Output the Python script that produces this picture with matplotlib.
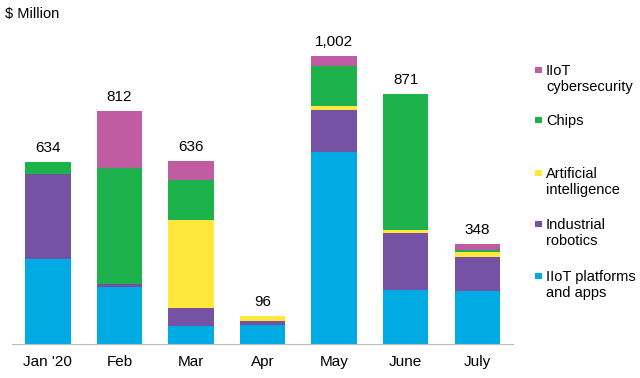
import numpy as np
import matplotlib.pyplot as plt
from matplotlib.patches import Rectangle

plt.rcParams['font.family'] = ['Liberation Sans', 'DejaVu Sans']

months = ["Jan '20", 'Feb', 'Mar', 'Apr', 'May', 'June', 'July']
platforms = [294, 199, 62, 64, 669, 188, 183]
robotics = [297, 10, 63, 14, 147, 199, 120]
ai = [0, 0, 305, 18, 13, 9, 15]
chips = [41, 404, 140, 0, 138, 475, 10]
cyber = [2, 199, 66, 0, 35, 0, 20]
totals = [634, 812, 636, 96, 1002, 871, 348]

series = [
    ('IIoT platforms\nand apps', platforms, '#00ABE3'),
    ('Industrial\nrobotics', robotics, '#7652A4'),
    ('Artificial\nintelligence', ai, '#FFE83B'),
    ('Chips', chips, '#1DB24C'),
    ('IIoT\ncybersecurity', cyber, '#C05CA2'),
]

fig = plt.figure(figsize=(6.4, 3.78), dpi=100)
ax = fig.add_axes([0.01875, 0.0907, 0.783, 0.835])

x = np.arange(len(months))
bottom = np.zeros(len(months))
for name, vals, color in series:
    ax.bar(x, vals, width=0.635, bottom=bottom, color=color, linewidth=0)
    bottom += np.array(vals)

for xi, t in zip(x, totals):
    ax.text(xi, t + 25, f'{t:,}', ha='center', va='bottom', fontsize=11)

ax.set_xlim(-0.5, 6.5)
ax.set_ylim(0, 1100)
ax.set_xticks(x)
ax.set_xticklabels(months, fontsize=11)
ax.tick_params(axis='x', length=0, pad=8)
ax.set_yticks([])
for s in ['top', 'right', 'left']:
    ax.spines[s].set_visible(False)
ax.spines['bottom'].set_color('#BBBBBB')

fig.text(0.008, 0.962, '$ Million', fontsize=10.5, va='center', ha='left')

# legend drawn by hand, top item first
leg_y = [70, 120, 173, 224, 276]
for (name, vals, color), py in zip(reversed(series), leg_y):
    yf = 1 - py / 378
    fig.add_artist(Rectangle((535 / 640, yf - 3.2 / 378), 6.5 / 640, 6.5 / 378,
                             transform=fig.transFigure, color=color, linewidth=0))
    fig.text(546 / 640, yf + 6 / 378, name, fontsize=10.5, va='top', ha='left',
             linespacing=1.2)

fig.savefig('out.png', dpi=100)
